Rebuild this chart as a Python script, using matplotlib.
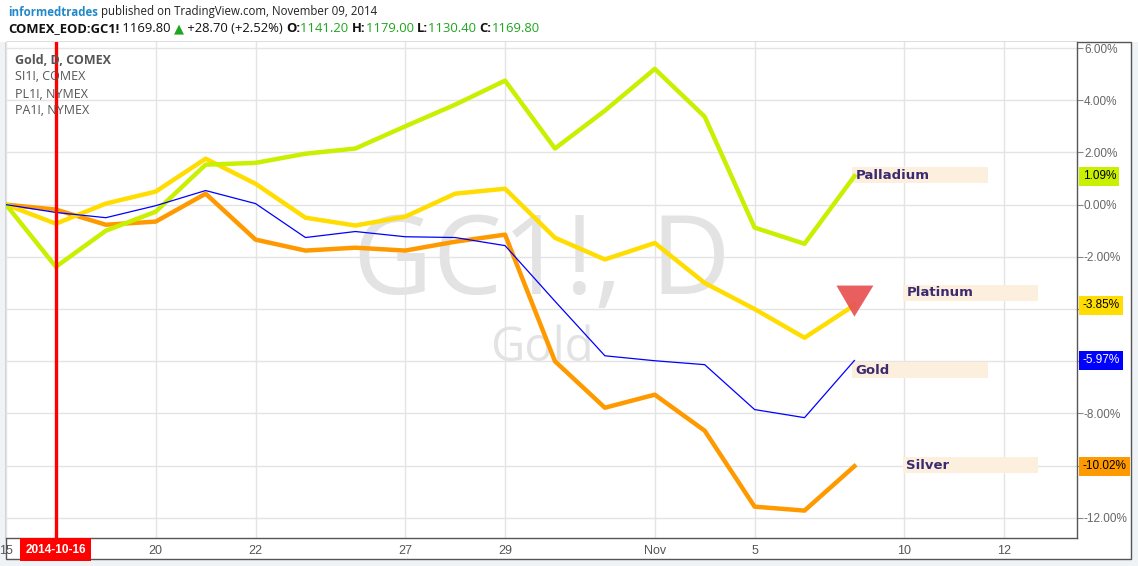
import matplotlib
matplotlib.use('Agg')
import matplotlib.pyplot as plt
from matplotlib.patches import Rectangle, Polygon

# trading days shown on the chart (index = x position)
dates = ['2014-10-15', '2014-10-16', '2014-10-17', '2014-10-20', '2014-10-21', '2014-10-22',
         '2014-10-23', '2014-10-24', '2014-10-27', '2014-10-28', '2014-10-29', '2014-10-30',
         '2014-10-31', '2014-11-03', '2014-11-04', '2014-11-05', '2014-11-06', '2014-11-07']

# % change since first bar
gold = [0.0, -0.30, -0.50, -0.04, 0.54, 0.04, -1.26, -1.03, -1.23, -1.26, -1.57, -3.70,
        -5.79, -5.98, -6.13, -7.85, -8.16, -5.97]
silver = [0.0, -0.19, -0.77, -0.65, 0.42, -1.34, -1.76, -1.65, -1.76, -1.42, -1.15, -6.0,
          -7.78, -7.28, -8.66, -11.57, -11.72, -10.02]
platinum = [0.0, -0.73, 0.04, 0.50, 1.76, 0.80, -0.50, -0.80, -0.46, 0.42, 0.61, -1.27,
            -2.10, -1.47, -3.0, -4.0, -5.10, -3.85]
palladium = [0.0, -2.38, -1.0, -0.27, 1.53, 1.60, 1.95, 2.15, 3.0, 3.83, 4.75, 2.15,
             3.60, 5.20, 3.37, -0.88, -1.50, 1.09]

x_ticks = [0, 3, 5, 8, 10, 13, 15, 18, 20]
x_labels = ['15', '20', '22', '27', '29', 'Nov', '5', '10', '12']
y_ticks = [6, 4, 2, 0, -2, -4, -6, -8, -10, -12]
# -4, -6 and -10 are hidden behind the last-value tags
y_labels = ['6.00%', '4.00%', '2.00%', '0.00%', '-2.00%', '', '', '-8.00%', '', '-12.00%']

c_gold = '#0000ff'
c_silver = '#ff9900'
c_plat = '#ffdd00'
c_pall = '#c8f000'

W, H = 1138, 566
fig = plt.figure(figsize=(W / 100, H / 100), dpi=100)
fig.patch.set_facecolor('white')

# grey surroundings and outer frame
bg = '#f0f3f6'
for r in [(0, 0, 6, H - 42), (1131, 0, 7, H - 42), (0, 0, W, 7)]:
    fig.add_artist(Rectangle(r[:2], r[2], r[3], transform=None, facecolor=bg,
                             edgecolor='none', zorder=0))
fig.add_artist(Rectangle((6, 7), 1125, H - 42 - 7, transform=None, facecolor='white',
                         edgecolor='#555555', linewidth=1, zorder=0))

ax = fig.add_axes([6 / W, (H - 538) / H, (1077 - 6) / W, (538 - 42) / H])
ax.set_facecolor('white')
ax.set_xlim(0.04, (1077 - 4) / 50)
ax.set_ylim(-12.77, 6.23)

for s in ['top', 'left']:
    ax.spines[s].set_visible(False)
for s in ['right', 'bottom']:
    ax.spines[s].set_color('#555555')
    ax.spines[s].set_linewidth(1)

ax.set_xticks(x_ticks)
ax.set_xticklabels(x_labels, family=['Liberation Sans Narrow', 'Liberation Sans'],
                   fontsize=9, color='#555555')
ax.tick_params(axis='x', length=0, pad=5)
ax.yaxis.tick_right()
ax.set_yticks(y_ticks)
ax.set_yticklabels(y_labels, family='Liberation Sans', fontsize=8.5, color='#666666')
ax.tick_params(axis='y', direction='out', length=4, color='#888888', pad=1)
ax.grid(True, color='#e4e4e4', linewidth=1)
ax.set_axisbelow(True)

xs = list(range(len(dates)))
ax.plot(xs, silver, color=c_silver, linewidth=3.2, zorder=3)
ax.plot(xs, platinum, color=c_plat, linewidth=3.2, zorder=3.1)
ax.plot(xs, palladium, color=c_pall, linewidth=3.2, zorder=3.2)
ax.plot(xs, gold, color=c_gold, linewidth=0.9, zorder=3.3)

# selected date
ax.axvline(1, color='#ff0000', linewidth=2.4, zorder=4)
ax.annotate('2014-10-16', xy=(1, 0), xycoords=('data', 'axes fraction'),
            xytext=(0, -4), textcoords='offset points', ha='center', va='top',
            fontsize=8.5, color='white', fontweight='bold',
            family=['Liberation Sans Narrow', 'Liberation Sans'],
            bbox=dict(boxstyle='square,pad=0.45', facecolor='#ff0000', edgecolor='none'),
            zorder=10, annotation_clip=False)

# watermark
ax.text(10.74, -2.32, 'GC1!, D', ha='center', va='center', fontsize=79, color='#e3e3e3',
        family='Open Sans', zorder=1)
ax.text(10.74, -5.5, 'Gold', ha='center', va='center', fontsize=34, color='#e3e3e3',
        family='Open Sans', zorder=1)

# series labels on the right of the lines
notes = [('Palladium', 16.96, 0.83, 2.72, 0.61, 17.02),
         ('Platinum', 17.98, -3.68, 2.70, 0.61, 18.04),
         ('Gold', 16.96, -6.64, 2.72, 0.61, 17.02),
         ('Silver', 17.98, -10.28, 2.70, 0.61, 18.04)]
for name, bx, by, bw, bh, tx in notes:
    ax.add_patch(Rectangle((bx, by), bw, bh, facecolor='#fdefde', edgecolor='none', zorder=2))
    ax.text(tx, by + bh / 2, name, ha='left', va='center', fontsize=9.5, fontweight='bold',
            color='#3c2a70', family='DejaVu Sans', zorder=5)

ax.add_patch(Polygon([(16.64, -3.1), (17.38, -3.1), (17.0, -4.29)], closed=True,
                     facecolor='#e85555', edgecolor='none', alpha=0.95, zorder=6))

# last value labels on the price axis
last = [(palladium[-1], c_pall, 'black'), (platinum[-1], c_plat, 'black'),
        (gold[-1], c_gold, 'white'), (silver[-1], c_silver, 'black')]
for v, bgc, fc in last:
    ax.annotate(f'{v:.2f}%', xy=(1.0, v), xycoords=('axes fraction', 'data'),
                xytext=(4, 0), textcoords='offset points', ha='left', va='center',
                fontsize=8.5, color=fc, family='Liberation Sans', annotation_clip=False,
                bbox=dict(boxstyle='square,pad=0.3', facecolor=bgc, edgecolor='none'),
                zorder=10)

# legend block
leg = ['Gold, D, COMEX', 'SI1!, COMEX', 'PL1!, NYMEX', 'PA1!, NYMEX']
for i, t in enumerate(leg):
    ax.annotate(t, xy=(15, H - 60 - 17 * i), xycoords='figure pixels', ha='left',
                va='center', fontsize=9, color='#555555', family='Open Sans',
                fontweight='bold' if i == 0 else 'normal', zorder=8)


def chain(parts, x, y, size):
    prev = None
    for txt, col, wt in parts:
        kw = dict(fontsize=size, color=col, fontweight=wt, family=['Open Sans', 'DejaVu Sans'],
                  va='center', ha='left', annotation_clip=False)
        if prev is None:
            prev = ax.annotate(txt, xy=(x, y), xycoords='figure pixels', **kw)
        else:
            prev = ax.annotate(txt, xy=(1, 0.5), xycoords=prev, xytext=(0, 0),
                               textcoords='offset points', **kw)


green = '#1fa51f'
chain([('informedtrades', '#2188c9', 'bold'),
       (' published on TradingView.com, November 09, 2014', '#222222', 'normal')],
      8, H - 12, 8.3)
chain([('COMEX_EOD:GC1!', '#111111', 'bold'), (' 1169.80 ', '#111111', 'normal'),
       ('\u25b2', green, 'normal'), (' +28.70 (+2.52%) ', '#111111', 'normal'),
       ('O:', '#111111', 'bold'), ('1141.20 ', green, 'normal'),
       ('H:', '#111111', 'bold'), ('1179.00 ', green, 'normal'),
       ('L:', '#111111', 'bold'), ('1130.40 ', green, 'normal'),
       ('C:', '#111111', 'bold'), ('1169.80', green, 'normal')], 8, H - 29, 9.4)

fig.savefig('out.png', dpi=100, facecolor=fig.get_facecolor())
